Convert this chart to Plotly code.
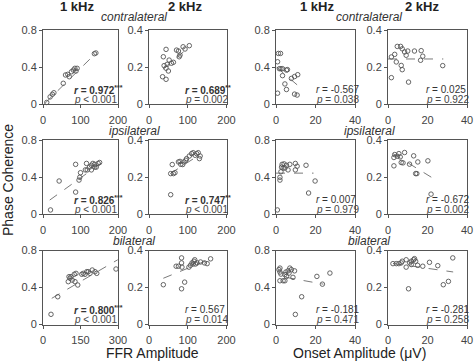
import plotly.graph_objects as go

# ---------------- data ----------------
# Row 1: contralateral
contra_ffr1k_x = [10, 19, 25, 29, 54, 60, 66, 70, 76, 81, 85, 91, 88, 137, 141]
contra_ffr1k_y = [0.02, 0.08, 0.108, 0.125, 0.227, 0.317, 0.324, 0.298, 0.352, 0.37, 0.389, 0.389, 0.36, 0.547, 0.555]
contra_ffr2k_x = [35, 44, 37, 44, 39, 47, 44, 52, 58, 63, 50, 71, 76, 80, 78, 88, 93, 104]
contra_ffr2k_y = [0.149, 0.135, 0.257, 0.297, 0.209, 0.216, 0.195, 0.239, 0.222, 0.227, 0.18, 0.293, 0.288, 0.266, 0.257, 0.311, 0.299, 0.317]
contra_ons1k_x = [0.8, 1.2, 2.3, 1.7, 2.5, 3.3, 5.3, 5.8, 3.3, 4.5, 5.3, 0.8, 7.8, 9.4, 11.0, 9.4, 10.7]
contra_ons1k_y = [0.46, 0.55, 0.55, 0.385, 0.385, 0.385, 0.37, 0.375, 0.31, 0.22, 0.16, 0.12, 0.28, 0.30, 0.32, 0.11, 0.10]
contra_ons2k_x = [1.7, 1.7, 3.4, 4.2, 4.7, 6.4, 7.2, 6.7, 7.2, 8.4, 9.2, 10.0, 10.4, 13.4, 16.8, 16.5, 17.6, 27.7]
contra_ons2k_y = [0.144, 0.256, 0.27, 0.229, 0.313, 0.313, 0.30, 0.21, 0.187, 0.283, 0.265, 0.288, 0.12, 0.288, 0.29, 0.238, 0.26, 0.209]

# Row 2: ipsilateral
ipsi_ffr1k_x = [20, 43, 87, 87, 96, 98, 100, 116, 118, 124, 129, 133, 138, 142, 147, 151, 129, 113, 138]
ipsi_ffr1k_y = [0.047, 0.36, 0.54, 0.24, 0.37, 0.40, 0.45, 0.55, 0.48, 0.51, 0.53, 0.55, 0.54, 0.51, 0.55, 0.56, 0.48, 0.48, 0.51]
ipsi_ffr2k_x = [56, 56, 60, 63, 67, 76, 80, 82, 87, 90, 97, 104, 110, 114, 119, 123, 127, 132, 130, 95]
ipsi_ffr2k_y = [0.106, 0.22, 0.269, 0.22, 0.225, 0.283, 0.286, 0.27, 0.269, 0.283, 0.301, 0.315, 0.328, 0.333, 0.319, 0.328, 0.333, 0.315, 0.301, 0.292]
ipsi_ons1k_x = [0.7, 2.0, 2.0, 2.8, 3.1, 3.6, 4.1, 4.5, 5.3, 7.0, 9.8, 10.7, 9.8, 15.2, 16.5, 19.8, 6.1, 2.5]
ipsi_ons1k_y = [0.047, 0.37, 0.40, 0.51, 0.54, 0.50, 0.545, 0.50, 0.53, 0.54, 0.55, 0.52, 0.48, 0.53, 0.23, 0.36, 0.48, 0.46]
ipsi_ons2k_x = [3.4, 3.0, 4.7, 5.5, 6.2, 6.7, 8.4, 7.6, 10.9, 13.0, 14.0, 14.6, 15.1, 20.2, 21.8, 3.0]
ipsi_ons2k_y = [0.323, 0.307, 0.314, 0.328, 0.31, 0.28, 0.334, 0.278, 0.271, 0.316, 0.22, 0.22, 0.283, 0.289, 0.109, 0.262]

# Row 3: bilateral
bi_ffr1k_x = [32, 59, 101, 108, 112, 117, 125, 128, 139, 132, 155, 161, 168, 175, 181, 188, 197, 208, 215, 292, 104]
bi_ffr1k_y = [0.11, 0.30, 0.463, 0.50, 0.517, 0.48, 0.543, 0.463, 0.427, 0.553, 0.543, 0.553, 0.543, 0.571, 0.571, 0.553, 0.589, 0.571, 0.553, 0.60, 0.517]
bi_ffr2k_x = [37, 70, 76, 84, 84, 85, 84, 92, 103, 107, 111, 116, 118, 120, 124, 133, 143, 150, 159, 114]
bi_ffr2k_y = [0.215, 0.315, 0.315, 0.36, 0.333, 0.31, 0.193, 0.229, 0.31, 0.32, 0.333, 0.342, 0.35, 0.327, 0.333, 0.338, 0.333, 0.329, 0.355, 0.327]
bi_ons1k_x = [1.5, 2.0, 2.0, 2.5, 2.0, 3.6, 4.5, 5.0, 5.3, 6.1, 6.6, 7.0, 7.8, 9.4, 8.6, 13.0, 9.8, 20.7, 23.5, 27.3, 4.5]
bi_ons1k_y = [0.593, 0.61, 0.567, 0.545, 0.473, 0.473, 0.473, 0.567, 0.52, 0.58, 0.556, 0.61, 0.593, 0.58, 0.51, 0.30, 0.109, 0.52, 0.436, 0.556, 0.54]
bi_ons2k_x = [2.5, 4.2, 5.5, 6.7, 7.2, 9.2, 9.2, 10.4, 11.0, 11.8, 13.0, 13.4, 14.0, 15.0, 17.6, 21.0, 25.2, 28.0, 30.6, 32.8, 11.8]
bi_ons2k_y = [0.329, 0.329, 0.329, 0.333, 0.342, 0.35, 0.31, 0.193, 0.333, 0.324, 0.35, 0.356, 0.342, 0.32, 0.315, 0.336, 0.318, 0.215, 0.233, 0.36, 0.342]

# Trend line end points [x0, x1], [y0, y1]
trend_x = [[5, 143], [36, 104], [0.3, 11], [0, 28],
           [18, 156], [55, 133], [0, 19], [2.5, 22],
           [35, 299], [37, 161], [5, 24], [2.5, 33]]
trend_y = [[0.01, 0.56], [0.19, 0.31], [0.40, 0.205], [0.245, 0.245],
           [0.154, 0.556], [0.22, 0.325], [0.445, 0.445], [0.328, 0.20],
           [0.283, 0.70], [0.25, 0.356], [0.51, 0.436], [0.33, 0.284]]

r_texts = ["0.972***", "0.689**", "-0.567", "0.025",
           "0.826***", "0.747**", "0.007", "-0.672",
           "0.800***", "0.567", "-0.181", "-0.281"]
r_bold = [True, True, False, False, True, True, False, False, True, False, False, False]
p_texts = ["< 0.001", "= 0.002", "= 0.038", "= 0.922",
           "< 0.001", "< 0.001", "= 0.979", "= 0.002",
           "< 0.001", "= 0.014", "= 0.471", "= 0.258"]

row_labels = ["contralateral", "ipsilateral", "bilateral"]
col_labels = ["1 kHz", "2 kHz", "1 kHz", "2 kHz"]

panel_x = [contra_ffr1k_x, contra_ffr2k_x, contra_ons1k_x, contra_ons2k_x,
           ipsi_ffr1k_x, ipsi_ffr2k_x, ipsi_ons1k_x, ipsi_ons2k_x,
           bi_ffr1k_x, bi_ffr2k_x, bi_ons1k_x, bi_ons2k_x]
panel_y = [contra_ffr1k_y, contra_ffr2k_y, contra_ons1k_y, contra_ons2k_y,
           ipsi_ffr1k_y, ipsi_ffr2k_y, ipsi_ons1k_y, ipsi_ons2k_y,
           bi_ffr1k_y, bi_ffr2k_y, bi_ons1k_y, bi_ons2k_y]

# ---------------- layout geometry ----------------
W, H = 474, 363
col_px = [(43, 118), (149, 226.5), (276, 355), (388, 467)]
row_px = [(30.3, 104.3), (140.3, 214.3), (250.5, 324.5)]
ann_x = [0.39, 0.44, 0.48, 0.46]

def xr(i):
    r, c = divmod(i, 4)
    if c >= 2:
        return [0, 40], [0, 20, 40]
    if r == 2 and c == 0:
        return [0, 300], [0, 150, 300]
    return [0, 200], [0, 100, 200]

def yr(i):
    c = i % 4
    if c % 2 == 0:
        return [0, 0.8], [0, 0.4, 0.8], ["0", "0.4", "0.8"]
    return [0, 0.4], [0, 0.2, 0.4], ["0", "0.2", "0.4"]

FONT = "Liberation Sans, Arial, sans-serif"
fig = go.Figure()
layout = dict(width=W, height=H, margin=dict(l=0, r=0, t=0, b=0, pad=0, autoexpand=False),
              template="none",
              paper_bgcolor="white", plot_bgcolor="white", showlegend=False,
              font=dict(family=FONT, size=11, color="#444"))
annotations = []

for i in range(12):
    r, c = divmod(i, 4)
    n = "" if i == 0 else str(i + 1)
    xa, ya = "x" + n, "y" + n
    fig.add_trace(go.Scatter(x=trend_x[i], y=trend_y[i], mode="lines", xaxis=xa, yaxis=ya,
                             line=dict(color="#7a7a7a", width=1, dash="dash")))
    fig.add_trace(go.Scatter(x=panel_x[i], y=panel_y[i], mode="markers", xaxis=xa, yaxis=ya,
                             marker=dict(symbol="circle-open", size=4.5, color="#555",
                                         line=dict(width=0.9, color="#555")),
                             cliponaxis=False))
    xrange_, xt = xr(i)
    yrange_, yt, ytt = yr(i)
    x0, x1 = col_px[c]
    y0, y1 = row_px[r]
    axis_common = dict(showline=True, linecolor="#555", linewidth=1, mirror=True, automargin=False,
                       showgrid=False, zeroline=False, ticks="outside", ticklen=3,
                       tickcolor="#555", tickfont=dict(family=FONT, size=11, color="#444"))
    layout["xaxis" + n] = dict(domain=[x0 / W, x1 / W], range=xrange_, tickvals=xt,
                               anchor=ya, fixedrange=True, ticklabelstandoff=2, **axis_common)
    layout["yaxis" + n] = dict(domain=[1 - y1 / H, 1 - y0 / H], range=yrange_, tickvals=yt,
                               ticktext=ytt, anchor=xa, fixedrange=True, **axis_common)
    rt = "<i>r</i> = " + r_texts[i].replace("*", "")
    stars = r_texts[i].count("*")
    if stars:
        rt += "<sup>" + "*" * stars + "</sup>"
    if r_bold[i]:
        rt = "<b>" + rt + "</b>"
    ax_x = ann_x[c]
    annotations.append(dict(text=rt, xref=xa + " domain", yref=ya + " domain", x=ax_x, y=0.2,
                            xanchor="left", yanchor="middle", showarrow=False,
                            font=dict(family=FONT, size=10, color="#333")))
    annotations.append(dict(text="<i>p</i> " + p_texts[i], xref=xa + " domain", yref=ya + " domain",
                            x=ax_x, y=0.065, xanchor="left", yanchor="middle", showarrow=False,
                            font=dict(family=FONT, size=10, color="#444")))

# column headers
for cx, lab in zip([77, 185, 317, 422], col_labels):
    annotations.append(dict(text="<b>" + lab + "</b>", xref="paper", yref="paper", x=cx / W,
                            y=1 - 7 / H, xanchor="center", yanchor="middle", showarrow=False,
                            font=dict(family=FONT, size=13, color="#222")))
# row labels
for ry, lab in zip([17, 131, 241], row_labels):
    for cx in [134, 369]:
        annotations.append(dict(text="<i>" + lab + "</i>", xref="paper", yref="paper", x=cx / W,
                                y=1 - ry / H, xanchor="center", yanchor="middle", showarrow=False,
                                font=dict(family=FONT, size=12, color="#333")))
# axis titles
annotations.append(dict(text="Phase Coherence", xref="paper", yref="paper", x=8 / W, y=1 - 180 / H,
                        textangle=-90, xanchor="center", yanchor="middle", showarrow=False,
                        font=dict(family=FONT, size=14, color="#222")))
annotations.append(dict(text="FFR Amplitude", xref="paper", yref="paper", x=152 / W, y=1 - 353 / H,
                        xanchor="center", yanchor="middle", showarrow=False,
                        font=dict(family=FONT, size=14, color="#222")))
annotations.append(dict(text="Onset Amplitude (μV)", xref="paper", yref="paper", x=359 / W, y=1 - 353 / H,
                        xanchor="center", yanchor="middle", showarrow=False,
                        font=dict(family=FONT, size=14, color="#222")))

layout["annotations"] = annotations
fig.update_layout(**layout)
fig.write_html("out.html", config={"displayModeBar": False},
               post_script="document.body.style.margin='0';")
